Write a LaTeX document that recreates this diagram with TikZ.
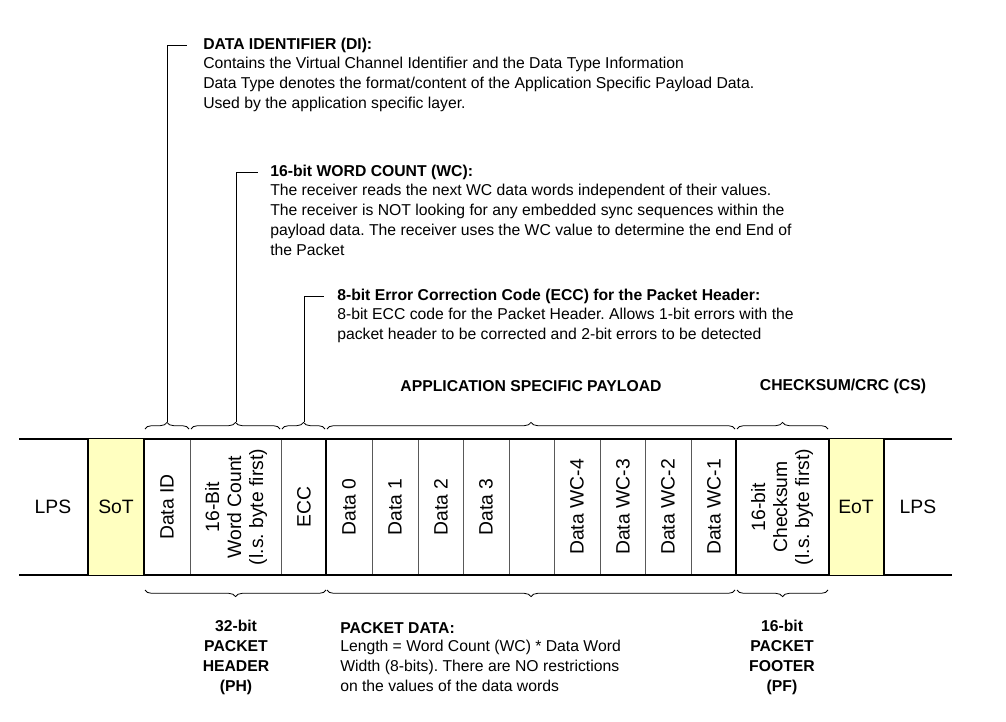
\documentclass[tikz,border=0pt]{standalone}
\usepackage{fontspec}
\setmainfont{Liberation Sans}
\usetikzlibrary{decorations.pathreplacing}
\definecolor{pale}{HTML}{FFFFC0}
\frenchspacing
\begin{document}
\begin{tikzpicture}[x=0.75pt,y=-0.75pt,
  txt/.style={font=\fontsize{11.8}{15}\selectfont,inner sep=0pt},
  hd/.style={txt,font=\fontsize{11.8}{15}\selectfont\bfseries},
  cl/.style={inner sep=0pt,font=\fontsize{14.5}{16.5}\selectfont},
  vt/.style={cl,rotate=90,align=center},
  thin/.style={line width=0.6pt,draw=gray!70!black},
  thick/.style={line width=2.2pt},
  brc/.style={decorate,decoration={brace,amplitude=5pt},line width=0.6pt},
  lead/.style={line width=0.6pt}]
\useasboundingbox (0,0) rectangle (1006,721);
% outer lines
\draw[line width=0.8pt] (19,439) -- (952,439) (19,575) -- (952,575);
\fill[pale] (88,439) rectangle (144,575);
\fill[pale] (829,439) rectangle (884,575);
\draw[line width=0.8pt] (88,439) -- (88,575) (884,439) -- (884,575);
% thin separators
\foreach \x in {190,281,372,418,463,509,554,600,645,691}
  \draw[thin] (\x,439) -- (\x,575);
% thick frame
\draw[thick] (509,439) -- (144,439) -- (144,575) -- (509,575);
\draw[thick] (554,439) -- (829,439) -- (829,575) -- (554,575);
\draw[thick,dash pattern=on 6pt off 5pt] (509,439) -- (554,439) (509,575) -- (554,575);
\draw[thick] (326,439) -- (326,575) (736,439) -- (736,575);
% cell labels
\node[cl] (lps1) at (53,507) {LPS};
\node[cl] (sot) at (116,507) {SoT};
\node[cl] (eot) at (856,507) {EoT};
\node[cl] (lps2) at (918,507) {LPS};
\node[vt] (di) at (167,507) {Data ID};
\node[vt] (wc) at (236,507) {16-Bit\\Word Count\\(l.s. byte first)};
\node[vt] (ecc) at (304,507) {ECC};
\node[vt] (d0) at (349,507) {Data 0};
\node[vt] (d1) at (395,507) {Data 1};
\node[vt] (d2) at (441,507) {Data 2};
\node[vt] (d3) at (486,507) {Data 3};
\node[vt] (w4) at (577,507) {Data WC-4};
\node[vt] (w3) at (623,507) {Data WC-3};
\node[vt] (w2) at (668,507) {Data WC-2};
\node[vt] (w1) at (714,507) {Data WC-1};
\node[vt] (cs) at (782,507) {16-bit\\Checksum\\(l.s. byte first)};
% top braces
\draw[brc] (145,429) -- (189,429);
\draw[brc] (191,429) -- (280,429);
\draw[brc] (282,429) -- (325,429);
\draw[brc] (327,429) -- (735,429);
\draw[brc] (737,429) -- (828,429);
% bottom braces
\draw[brc] (326,590) -- (145,590);
\draw[brc] (735,590) -- (327,590);
\draw[brc] (828,590) -- (737,590);
% leaders
\coordinate (c1) at (167,422);
\coordinate (c2) at (236,422);
\coordinate (c3) at (304,422);
\draw[lead] (c1) |- (187,45);
\draw[lead] (c2) |- (258,172);
\draw[lead] (c3) |- (324,296);
% top texts
\node[hd,anchor=west] (dih) at (203,45) {DATA IDENTIFIER (DI):};
\node[txt,anchor=north west,align=left] (dit) at (203,57) {Contains the Virtual Channel Identifier and the Data Type Information\\Data Type denotes the format/content of the Application Specific Payload Data.\\Used by the application specific layer.};
\node[hd,anchor=west] (wch) at (270,172) {16-bit WORD COUNT (WC):};
\node[txt,anchor=north west,align=left] (wct) at (270,184) {The receiver reads the next WC data words independent of their values.\\The receiver is NOT looking for any embedded sync sequences within the\\payload data. The receiver uses the WC value to determine the end End of\\the Packet};
\node[hd,anchor=west] (ecch) at (337,296) {8-bit Error Correction Code (ECC) for the Packet Header:};
\node[txt,anchor=north west,align=left] (ecct) at (337,308) {8-bit ECC code for the Packet Header. Allows 1-bit errors with the\\packet header to be corrected and 2-bit errors to be detected};
\node[hd] (asp) at (531,386) {APPLICATION SPECIFIC PAYLOAD};
\node[hd] (csh) at (843,386) {CHECKSUM/CRC (CS)};
% bottom texts
\node[hd,align=center,anchor=north] (ph) at (236,620) {32-bit\\PACKET\\HEADER\\(PH)};
\node[hd,anchor=west] (pdh) at (340,628) {PACKET DATA:};
\node[txt,anchor=north west,align=left] (pdt) at (340,640) {Length = Word Count (WC) * Data Word\\Width (8-bits). There are NO restrictions\\on the values of the data words};
\node[hd,align=center,anchor=north] (pf) at (782,620) {16-bit\\PACKET\\FOOTER\\(PF)};
\end{tikzpicture}
\end{document}
